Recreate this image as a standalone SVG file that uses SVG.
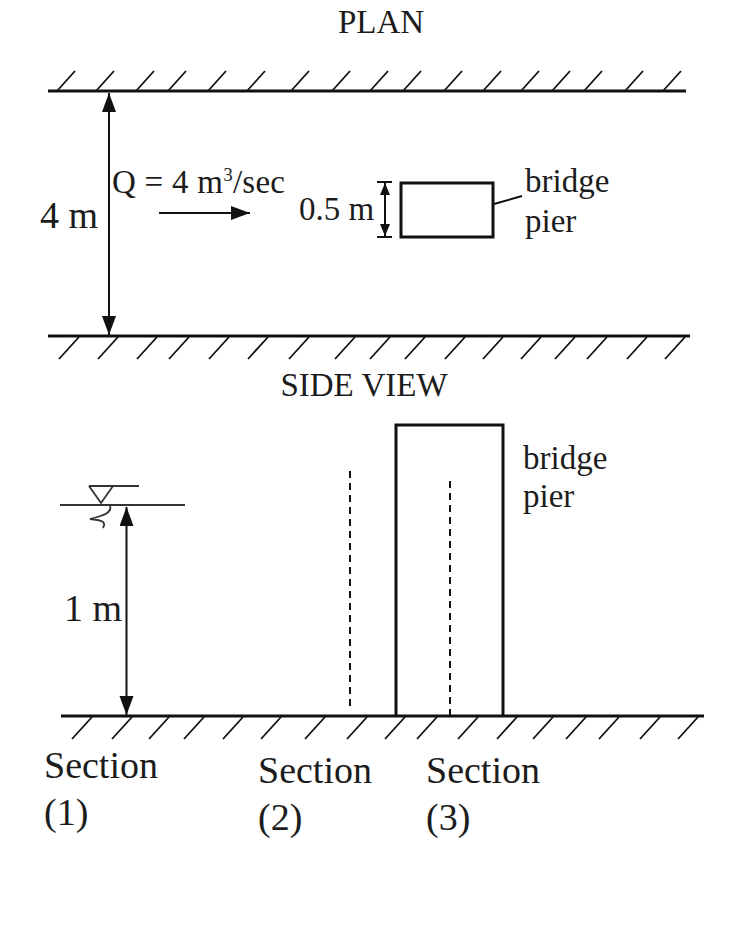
<svg xmlns="http://www.w3.org/2000/svg" width="750" height="930" viewBox="0 0 750 930">
<style>
text{font-family:"Liberation Serif","Times New Roman",serif;fill:#1c1c1c}
.t{font-size:30px}.l{font-size:38px}.m{font-size:33px}
.ln{fill:none;stroke:#111;stroke-linecap:butt}
.g{stroke-width:3}.h{stroke-width:1.8}.a{stroke-width:2}.p{stroke-width:3;fill:#fff}.d{stroke-width:2;stroke-dasharray:7 5}.w{stroke-width:1.8;stroke:#333}
</style>
<defs>
<marker id="ah" markerUnits="userSpaceOnUse" markerWidth="20" markerHeight="16" refX="19" refY="7" orient="auto-start-reverse"><path d="M0 0L19 7L0 14Z" fill="#111"/></marker>
<marker id="as" markerUnits="userSpaceOnUse" markerWidth="13" markerHeight="12" refX="12" refY="5" orient="auto-start-reverse"><path d="M0 0L12 5L0 10Z" fill="#111"/></marker>
</defs>
<rect width="750" height="930" fill="#fff"/>
<g id="plan">
<text class="m" x="381" y="33" text-anchor="middle">PLAN</text>
<path class="ln g" d="M48 91H686M48 336H690"/>
<path class="ln h" d="M57 91l18-20M96 91l18-20M136 91l18-20M168 91l18-20M208 91l18-20M247 91l18-20M291 91l18-20M332 91l18-20M370 91l18-20M403 91l18-20M444 91l18-20M483 91l18-20M521 91l18-20M552 91l18-20M584 91l18-20M625 91l18-20M663 91l18-20"/>
<path class="ln h" d="M79 337l-20 22M118 337l-20 22M157 337l-20 22M189 337l-20 22M229 337l-20 22M268 337l-20 22M309 337l-20 22M355 337l-20 22M390 337l-20 22M425 337l-20 22M465 337l-20 22M503 337l-20 22M541 337l-20 22M575 337l-20 22M607 337l-20 22M647 337l-20 22M685 337l-20 22"/>
<g id="plan-width"><path class="ln a" d="M109 93V335" marker-start="url(#ah)" marker-end="url(#ah)"/><text class="l" x="40" y="228">4 m</text></g>
<g id="plan-flow"><text class="m" x="112" y="193" textLength="173" lengthAdjust="spacing">Q = 4 m<tspan font-size="19" dy="-12">3</tspan><tspan dy="12">/sec</tspan></text><path class="ln a" d="M159 213H250" marker-end="url(#ah)"/></g>
<g id="plan-pier"><rect class="ln p" x="401" y="183" width="92" height="54"/><path class="ln a" d="M494 204L522 196"/><text class="m" x="525" y="192">bridge</text><text class="m" x="525" y="232">pier</text></g>
<g id="pier-width"><path class="ln a" d="M377 182H392M377 237H392"/><path class="ln a" d="M385 183V236" marker-start="url(#as)" marker-end="url(#as)"/><text class="m" x="299" y="220">0.5 m</text></g>
</g>
<g id="side">
<text class="m" x="364" y="396" text-anchor="middle">SIDE VIEW</text>
<path class="ln g" d="M61 716H704"/>
<path class="ln h" d="M92 717l-20 22M132 717l-20 22M169 717l-20 22M204 717l-20 22M243 717l-20 22M281 717l-20 22M325 717l-20 22M367 717l-20 22M405 717l-20 22M437 717l-20 22M478 717l-20 22M517 717l-20 22M553 717l-20 22M586 717l-20 22M619 717l-20 22M660 717l-20 22M698 717l-20 22"/>
<g id="side-pier"><path class="ln g" d="M396 716V425H503V716"/><text class="m" x="523" y="469">bridge</text><text class="m" x="523" y="507">pier</text></g>
<path class="ln d" d="M350 471V710"/>
<path class="ln d" d="M450 481V718"/>
<g id="water"><path class="ln w" d="M60 505H185M89 486H139M89 486L101 503L113 486M110 506C112 512 106 515 90 519C100 520 107 521 103 528"/><path class="ln a" d="M126.500 507V715" marker-start="url(#ah)" marker-end="url(#ah)"/><text class="l" x="64" y="621">1 m</text></g>
<g id="section-1"><text class="l" x="44" y="778">Section</text><text class="l" x="44" y="825">(1)</text></g>
<g id="section-2"><text class="l" x="258" y="783">Section</text><text class="l" x="258" y="830">(2)</text></g>
<g id="section-3"><text class="l" x="426" y="783">Section</text><text class="l" x="426" y="830">(3)</text></g>
</g>
</svg>
